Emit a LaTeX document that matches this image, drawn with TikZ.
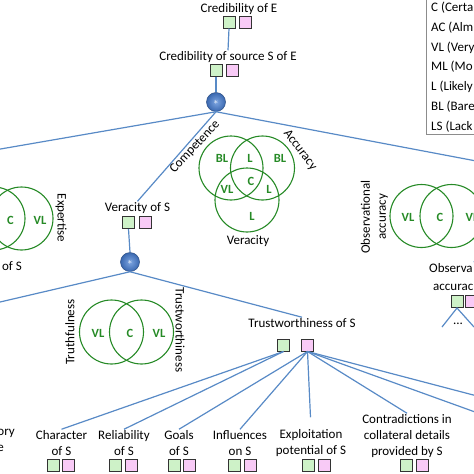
\documentclass[tikz,border=0pt]{standalone}
\usepackage{fontspec}
\setmainfont{Carlito}
\usetikzlibrary{positioning}
\definecolor{linkblue}{RGB}{88,138,198}
\definecolor{venngreen}{RGB}{38,138,38}
\definecolor{boxgreen}{RGB}{206,242,200}
\definecolor{boxpink}{RGB}{248,202,246}
\definecolor{ballblue}{RGB}{58,104,176}
\definecolor{balllight}{RGB}{125,165,225}
\tikzset{
  lab/.style={font=\fontsize{13}{16}\selectfont, inner sep=1pt, align=center},
  gbox/.style={draw=black!80, fill=boxgreen, line width=1pt, minimum size=12pt, inner sep=0pt},
  pbox/.style={gbox, fill=boxpink},
  lnk/.style={draw=linkblue, line width=1.2pt},
  venn/.style={draw=venngreen, line width=1.1pt},
  vlab/.style={font=\fontsize{12.5}{14}\selectfont\bfseries, text=venngreen, inner sep=0pt},
  op/.style={circle, shading=radial, inner color=balllight, outer color=ballblue,
    draw=ballblue!75!black, line width=0.5pt,
    minimum size=19pt, inner sep=0pt, font=\small, text=white},
  legend/.style={font=\fontsize{13}{15}\selectfont, anchor=west, inner sep=0pt},
}

\begin{document}
\begin{tikzpicture}[x=1pt,y=-1pt]
    \useasboundingbox (0,0) rectangle (474,474);
    \clip (0,0) rectangle (474,474);

    % legend
    \draw[black!45, fill=white] (426,-2) rectangle (490,134);
    \foreach \txt [count=\i from 0] in {C (Certa, AC (Alm, VL (Very, ML (Mo, L (Likely, BL (Bare, LS (Lack}
        \node[legend] at (431,8+19.7*\i) {\txt};

    % top of the tree
    \node[lab] (credE) at (239,9) {Credibility of E};
    \node[gbox] (credE-g) at (229,22) {};
    \node[pbox] (credE-p) at (245.5,22) {};
    \node[lab] (credS) at (228,57) {Credibility of source S of E};
    \node[gbox] (credS-g) at (216,70) {};
    \node[pbox] (credS-p) at (232,70) {};
    \node[op] (op1) at (216,102) {$\ast$};
    \draw[lnk] (credE-g.south) -- (credS.north);
    \draw[lnk] (credS-g.south) -- (op1.north);

    \coordinate (cmpOff) at (-40,156);
    \coordinate (accOff) at (500,165.5);
    \draw[lnk] (op1.south) -- (cmpOff);
    \draw[lnk] (op1.south) -- (accOff);

    % expertise (cut at the left)
    \draw[venn] (-6.5,218.5) circle (31.5pt);
    \draw[venn] (21.5,218.5) circle (31.5pt);
    \node[vlab] at (10.5,220) {C};
    \node[vlab] at (40,220) {VL};
    \node[lab, rotate=-90] at (61,218) {Expertise};
    \node[lab, anchor=east] at (23,266) {of S};

    % veracity
    \node[lab] (ver) at (137.5,208) {Veracity of S};
    \node[gbox] (ver-g) at (128.5,222.5) {};
    \node[pbox] (ver-p) at (145,222.5) {};
    \node[op] (op2) at (130,262) {$\ast$};
    \draw[lnk] (op1.south) -- (ver.north);
    \draw[lnk] (ver-g.south) -- (op2.north);

    % competence, accuracy, veracity
    \draw[venn] (231,168) circle (32pt);
    \draw[venn] (262.5,168) circle (32pt);
    \draw[venn] (247,200) circle (32pt);
    \node[vlab] at (222,158) {BL};
    \node[vlab] at (250,158) {L};
    \node[vlab] at (280,158) {BL};
    \node[vlab] at (251,181) {C};
    \node[vlab] at (227,189) {VL};
    \node[vlab] at (269,189) {L};
    \node[vlab] at (252,216) {L};
    \node[lab, rotate=47] at (195,147) {Competence};
    \node[lab, rotate=-53] at (300,150) {Accuracy};
    \node[lab] at (248,241) {Veracity};

    % observational accuracy
    \draw[venn] (421.5,216) circle (31.5pt);
    \draw[venn] (451.5,216) circle (31.5pt);
    \node[vlab] at (408,217) {VL};
    \node[vlab] at (440,217) {C};
    \node[vlab] at (472,217) {VL};
    \node[lab, rotate=90] at (374.5,217) {Observational\\accuracy};
    \node[lab, anchor=west] (obs1) at (428,268) {Observa};
    \node[lab, anchor=west] (obs2) at (432,287) {accurac};
    \node[gbox] (obs-g) at (457,301.5) {};
    \node[pbox] (obs-p) at (471,301.5) {};
    \coordinate (obsUp) at (492,236);
    \draw[lnk] (obsUp) -- (obs1.north east);
    \node[lab] (dots) at (458,324) {...};
    \coordinate (dotsL) at (442,327);
    \coordinate (dotsR) at (474,327);
    \draw[lnk] (dotsL) -- (obs-g.south) -- (dotsR);

    % truthfulness, trustworthiness
    \coordinate (trfOff) at (-30,309);
    \draw[lnk] (op2.south) -- (trfOff);
    \draw[venn] (111.5,332) circle (32pt);
    \draw[venn] (141.5,332) circle (32pt);
    \node[vlab] at (98,333) {VL};
    \node[vlab] at (130,333) {C};
    \node[vlab] at (159,333) {VL};
    \node[lab, rotate=90] at (70,332) {Truthfulness};
    \node[lab, rotate=-90] at (180,330) {Trustworthiness};

    \node[lab] (trust) at (302,323) {Trustworthiness of S};
    \node[gbox] (trust-g) at (283.5,345) {};
    \node[pbox] (trust-p) at (307.5,345) {};
    \draw[lnk] (op2.south) -- (trust.north);

    % children of trustworthiness
    \node[lab, anchor=east] at (16,433) {ory};
    \node[lab, anchor=east] at (5,448) {e};
    \node[lab] (char) at (61.5,443) {Character\\of S};
    \node[lab] (reli) at (124,443) {Reliability\\of S};
    \node[lab] (goal) at (179,443) {Goals\\of S};
    \node[lab] (infl) at (240,443) {Influences\\on S};
    \node[lab] (expl) at (311,443) {Exploitation\\potential of S};
    \node[lab] (contr) at (407,436) {Contradictions in\\collateral details\\provided by S};
    \foreach \n/\x in {char/53, reli/115.5, goal/174, infl/234.5, expl/308.5, contr/406.5}{
        \node[gbox] (\n-g) at (\x,465.5) {};
        \node[pbox] (\n-p) at (\x+15.5,465.5) {};
    }
    \coordinate (rOff1) at (500,402);
    \coordinate (rOff2) at (500,421);
    \draw[lnk] (trust-g.south) -- (char.north);
    \draw[lnk] (trust-g.south) -- (reli.north);
    \draw[lnk] (trust-p.south) -- (goal.north);
    \draw[lnk] (trust-p.south) -- (infl.north);
    \draw[lnk, shorten >=11pt] (trust-p.south) -- (expl.north);
    \draw[lnk] (trust-p.south) -- (contr.north);
    \draw[lnk] (trust-p.south) -- (rOff1);
    \draw[lnk] (trust-p.south) -- (rOff2);
\end{tikzpicture}
\end{document}
